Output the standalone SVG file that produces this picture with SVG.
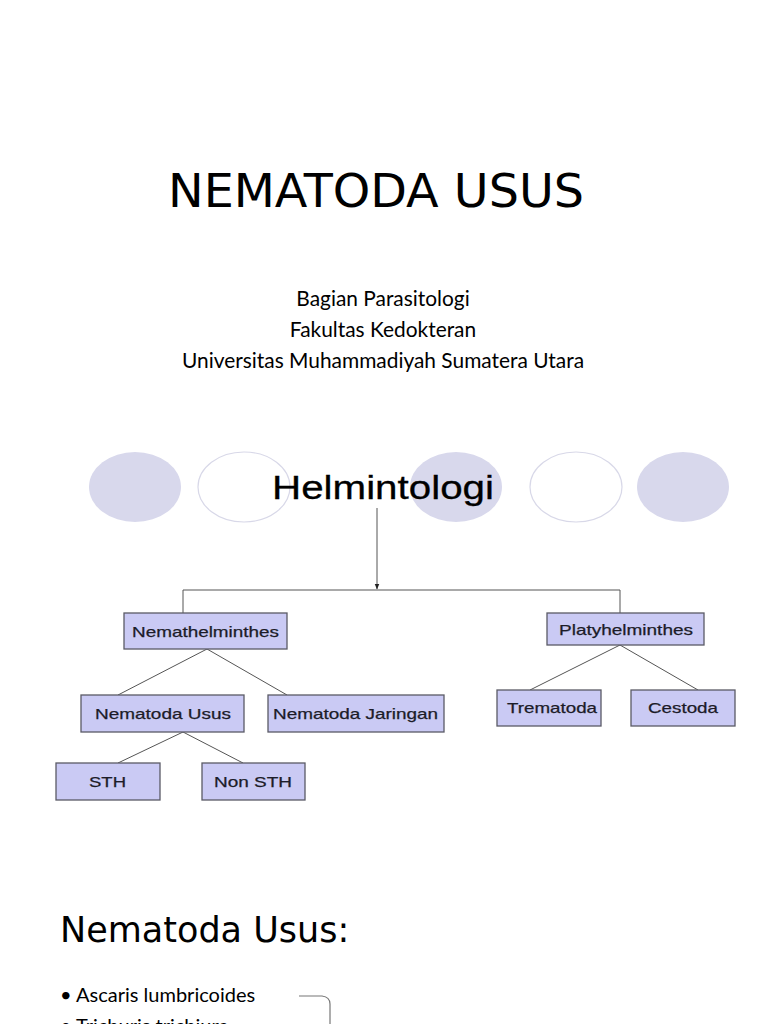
<svg xmlns="http://www.w3.org/2000/svg" width="768" height="1024" viewBox="0 0 768 1024">
<style>
.title{font-family:"DejaVu Sans",sans-serif;fill:#000}
.sub{font-family:Lato,"Open Sans",sans-serif;font-size:20.9px;fill:#000;text-anchor:middle}
.bul{font-family:Lato,"Open Sans",sans-serif;font-size:20px;fill:#000}
.box{fill:#cacaf4;stroke:#5a5a66;stroke-width:1.3}
.bt{font-family:"Liberation Sans",Arial,sans-serif;font-size:15px;fill:#1c1c28;stroke:#1c1c28;stroke-width:0.25}
.conn{stroke:#555;stroke-width:1;fill:none}
.cf{fill:#d8d8ec}
.co{fill:#fff;stroke:#d8d8e8;stroke-width:1.2}
</style>
<defs>
<marker id="arr" viewBox="0 0 10 10" refX="9" refY="5" markerWidth="6" markerHeight="6" orient="auto">
<path d="M0,1 L10,5 L0,9 z" fill="#222"/>
</marker>
</defs>
<rect width="768" height="1024" fill="#fff"/>
<text class="title" x="168" y="207" font-size="47" textLength="416" lengthAdjust="spacingAndGlyphs">NEMATODA USUS</text>
<text class="sub" x="383" y="306">Bagian Parasitologi</text>
<text class="sub" x="383" y="337">Fakultas Kedokteran</text>
<text class="sub" x="383" y="368">Universitas Muhammadiyah Sumatera Utara</text>

<g id="circles">
<ellipse class="cf" cx="135" cy="487" rx="46" ry="35"/>
<ellipse class="co" cx="244" cy="487" rx="46" ry="35"/>
<ellipse class="cf" cx="456" cy="487" rx="46" ry="35"/>
<ellipse class="co" cx="576" cy="487" rx="46" ry="35"/>
<ellipse class="cf" cx="683" cy="487" rx="46" ry="35"/>
</g>
<g id="helmintologi">
<text x="272" y="499" font-family="Liberation Sans,Arial,sans-serif" font-size="34" fill="#000" stroke="#000" stroke-width="0.3" textLength="222" lengthAdjust="spacingAndGlyphs">Helmintologi</text>
</g>

<g id="connectors">
<line class="conn" x1="377" y1="508" x2="377" y2="589" marker-end="url(#arr)"/>
<polyline class="conn" points="183,613 183,590 620,590 620,613"/>
<line class="conn" x1="207" y1="649" x2="118" y2="695"/>
<line class="conn" x1="207" y1="649" x2="287" y2="695"/>
<line class="conn" x1="183" y1="732" x2="118" y2="763"/>
<line class="conn" x1="183" y1="732" x2="243" y2="763"/>
<line class="conn" x1="620" y1="645" x2="530" y2="690"/>
<line class="conn" x1="620" y1="645" x2="698" y2="690"/>
</g>

<g id="nemathelminthes">
<rect class="box" x="124" y="613" width="163" height="36"/>
<text class="bt" x="132" y="637" textLength="147" lengthAdjust="spacingAndGlyphs">Nemathelminthes</text>
</g>
<g id="platyhelminthes">
<rect class="box" x="547" y="613" width="157" height="32"/>
<text class="bt" x="559" y="635" textLength="134" lengthAdjust="spacingAndGlyphs">Platyhelminthes</text>
</g>
<g id="nematoda-usus">
<rect class="box" x="81" y="695" width="163" height="37"/>
<text class="bt" x="95" y="719" textLength="136" lengthAdjust="spacingAndGlyphs">Nematoda Usus</text>
</g>
<g id="nematoda-jaringan">
<rect class="box" x="268" y="695" width="176" height="37"/>
<text class="bt" x="273" y="719" textLength="165" lengthAdjust="spacingAndGlyphs">Nematoda Jaringan</text>
</g>
<g id="sth">
<rect class="box" x="56" y="763" width="104" height="37"/>
<text class="bt" x="89" y="787" textLength="37" lengthAdjust="spacingAndGlyphs">STH</text>
</g>
<g id="non-sth">
<rect class="box" x="202" y="763" width="103" height="37"/>
<text class="bt" x="214" y="787" textLength="78" lengthAdjust="spacingAndGlyphs">Non STH</text>
</g>
<g id="trematoda">
<rect class="box" x="497" y="690" width="104" height="36"/>
<text class="bt" x="507" y="713" textLength="90" lengthAdjust="spacingAndGlyphs">Trematoda</text>
</g>
<g id="cestoda">
<rect class="box" x="631" y="690" width="104" height="36"/>
<text class="bt" x="648" y="713" textLength="70" lengthAdjust="spacingAndGlyphs">Cestoda</text>
</g>

<text class="title" x="60" y="942" font-size="35">Nematoda Usus:</text>
<text class="bul" x="60" y="1002">• Ascaris lumbricoides</text>
<text class="bul" x="60" y="1033">• Trichuris trichiura</text>
<path d="M299,996 L322,996 Q330,997 330,1004 L330,1024" fill="none" stroke="#777" stroke-width="1.2"/>
</svg>
